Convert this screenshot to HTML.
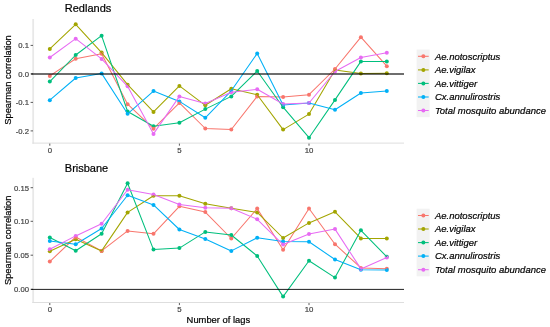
<!DOCTYPE html>
<html><head><meta charset="utf-8"><title>Spearman correlation by number of lags</title>
<style>html,body{margin:0;padding:0;background:#fff}svg{display:block}text{font-family:"Liberation Sans",Arial,sans-serif}</style></head><body>
<svg width="550" height="327" viewBox="0 0 550 327">
<rect width="550" height="327" fill="#fff"/>
<line x1="33.15" y1="19" x2="33.15" y2="143.6" stroke="#e8e8e8" stroke-width="1.8"/>
<line x1="32.3" y1="143.1" x2="404" y2="143.1" stroke="#dedede" stroke-width="1.0"/>
<text x="64.8" y="11.8" font-size="11" fill="#000" stroke="#000" stroke-width="0.2">Redlands</text>
<line x1="30.6" y1="45.4" x2="33.0" y2="45.4" stroke="#333" stroke-width="0.8"/>
<text x="29" y="48.4" font-size="7.7" fill="#444" stroke="#444" stroke-width="0.2" text-anchor="end">0.1</text>
<line x1="30.6" y1="73.9" x2="33.0" y2="73.9" stroke="#333" stroke-width="0.8"/>
<text x="29" y="76.9" font-size="7.7" fill="#444" stroke="#444" stroke-width="0.2" text-anchor="end">0.0</text>
<line x1="30.6" y1="102.4" x2="33.0" y2="102.4" stroke="#333" stroke-width="0.8"/>
<text x="29" y="105.4" font-size="7.7" fill="#444" stroke="#444" stroke-width="0.2" text-anchor="end">-0.1</text>
<line x1="30.6" y1="130.9" x2="33.0" y2="130.9" stroke="#333" stroke-width="0.8"/>
<text x="29" y="133.9" font-size="7.7" fill="#444" stroke="#444" stroke-width="0.2" text-anchor="end">-0.2</text>
<line x1="49.8" y1="143.6" x2="49.8" y2="145.7" stroke="#333" stroke-width="0.8"/>
<text x="49.8" y="152.7" font-size="7.8" fill="#444" stroke="#444" stroke-width="0.2" text-anchor="middle">0</text>
<line x1="179.4" y1="143.6" x2="179.4" y2="145.7" stroke="#333" stroke-width="0.8"/>
<text x="179.4" y="152.7" font-size="7.8" fill="#444" stroke="#444" stroke-width="0.2" text-anchor="middle">5</text>
<line x1="309.0" y1="143.6" x2="309.0" y2="145.7" stroke="#333" stroke-width="0.8"/>
<text x="309.0" y="152.7" font-size="7.8" fill="#444" stroke="#444" stroke-width="0.2" text-anchor="middle">10</text>
<text transform="translate(11.3,80) rotate(-90)" font-size="9.4" fill="#000" stroke="#000" stroke-width="0.2" text-anchor="middle">Spearman correlation</text>
<circle cx="49.8" cy="48.9" r="2.0" fill="#A3A500"/>
<circle cx="75.7" cy="24.3" r="2.0" fill="#A3A500"/>
<circle cx="101.6" cy="52.6" r="2.0" fill="#A3A500"/>
<circle cx="127.6" cy="84.7" r="2.0" fill="#A3A500"/>
<circle cx="153.5" cy="111.9" r="2.0" fill="#A3A500"/>
<circle cx="179.4" cy="85.9" r="2.0" fill="#A3A500"/>
<circle cx="205.3" cy="105.3" r="2.0" fill="#A3A500"/>
<circle cx="231.3" cy="88.7" r="2.0" fill="#A3A500"/>
<circle cx="257.2" cy="94.8" r="2.0" fill="#A3A500"/>
<circle cx="283.1" cy="129.6" r="2.0" fill="#A3A500"/>
<circle cx="309.0" cy="114.1" r="2.0" fill="#A3A500"/>
<circle cx="335.0" cy="70.0" r="2.0" fill="#A3A500"/>
<circle cx="360.9" cy="73.5" r="2.0" fill="#A3A500"/>
<circle cx="386.8" cy="73.3" r="2.0" fill="#A3A500"/>
<circle cx="49.8" cy="81.6" r="2.0" fill="#00BF7D"/>
<circle cx="75.7" cy="55.0" r="2.0" fill="#00BF7D"/>
<circle cx="101.6" cy="35.7" r="2.0" fill="#00BF7D"/>
<circle cx="127.6" cy="111.5" r="2.0" fill="#00BF7D"/>
<circle cx="153.5" cy="126.3" r="2.0" fill="#00BF7D"/>
<circle cx="179.4" cy="122.8" r="2.0" fill="#00BF7D"/>
<circle cx="205.3" cy="109.1" r="2.0" fill="#00BF7D"/>
<circle cx="231.3" cy="96.4" r="2.0" fill="#00BF7D"/>
<circle cx="257.2" cy="71.0" r="2.0" fill="#00BF7D"/>
<circle cx="283.1" cy="107.2" r="2.0" fill="#00BF7D"/>
<circle cx="309.0" cy="137.7" r="2.0" fill="#00BF7D"/>
<circle cx="335.0" cy="99.9" r="2.0" fill="#00BF7D"/>
<circle cx="360.9" cy="61.4" r="2.0" fill="#00BF7D"/>
<circle cx="386.8" cy="61.4" r="2.0" fill="#00BF7D"/>
<circle cx="49.8" cy="100.2" r="2.0" fill="#00B0F6"/>
<circle cx="75.7" cy="78.0" r="2.0" fill="#00B0F6"/>
<circle cx="101.6" cy="73.4" r="2.0" fill="#00B0F6"/>
<circle cx="127.6" cy="113.8" r="2.0" fill="#00B0F6"/>
<circle cx="153.5" cy="91.1" r="2.0" fill="#00B0F6"/>
<circle cx="179.4" cy="101.4" r="2.0" fill="#00B0F6"/>
<circle cx="205.3" cy="117.8" r="2.0" fill="#00B0F6"/>
<circle cx="231.3" cy="90.8" r="2.0" fill="#00B0F6"/>
<circle cx="257.2" cy="53.4" r="2.0" fill="#00B0F6"/>
<circle cx="283.1" cy="105.0" r="2.0" fill="#00B0F6"/>
<circle cx="309.0" cy="103.0" r="2.0" fill="#00B0F6"/>
<circle cx="335.0" cy="109.8" r="2.0" fill="#00B0F6"/>
<circle cx="360.9" cy="93.0" r="2.0" fill="#00B0F6"/>
<circle cx="386.8" cy="91.1" r="2.0" fill="#00B0F6"/>
<circle cx="49.8" cy="57.5" r="2.0" fill="#E76BF3"/>
<circle cx="75.7" cy="38.7" r="2.0" fill="#E76BF3"/>
<circle cx="101.6" cy="58.9" r="2.0" fill="#E76BF3"/>
<circle cx="127.6" cy="86.3" r="2.0" fill="#E76BF3"/>
<circle cx="153.5" cy="133.9" r="2.0" fill="#E76BF3"/>
<circle cx="179.4" cy="96.4" r="2.0" fill="#E76BF3"/>
<circle cx="205.3" cy="103.5" r="2.0" fill="#E76BF3"/>
<circle cx="231.3" cy="92.2" r="2.0" fill="#E76BF3"/>
<circle cx="257.2" cy="89.3" r="2.0" fill="#E76BF3"/>
<circle cx="283.1" cy="104.0" r="2.0" fill="#E76BF3"/>
<circle cx="309.0" cy="103.0" r="2.0" fill="#E76BF3"/>
<circle cx="335.0" cy="71.5" r="2.0" fill="#E76BF3"/>
<circle cx="360.9" cy="57.5" r="2.0" fill="#E76BF3"/>
<circle cx="386.8" cy="52.7" r="2.0" fill="#E76BF3"/>
<circle cx="49.8" cy="75.9" r="2.0" fill="#F8766D"/>
<circle cx="75.7" cy="58.7" r="2.0" fill="#F8766D"/>
<circle cx="101.6" cy="53.8" r="2.0" fill="#F8766D"/>
<circle cx="127.6" cy="104.2" r="2.0" fill="#F8766D"/>
<circle cx="153.5" cy="128.7" r="2.0" fill="#F8766D"/>
<circle cx="179.4" cy="102.9" r="2.0" fill="#F8766D"/>
<circle cx="205.3" cy="128.5" r="2.0" fill="#F8766D"/>
<circle cx="231.3" cy="129.5" r="2.0" fill="#F8766D"/>
<circle cx="257.2" cy="96.4" r="2.0" fill="#F8766D"/>
<circle cx="283.1" cy="96.9" r="2.0" fill="#F8766D"/>
<circle cx="309.0" cy="94.7" r="2.0" fill="#F8766D"/>
<circle cx="335.0" cy="69.0" r="2.0" fill="#F8766D"/>
<circle cx="360.9" cy="37.2" r="2.0" fill="#F8766D"/>
<circle cx="386.8" cy="66.2" r="2.0" fill="#F8766D"/>
<polyline points="49.8,75.9 75.7,58.7 101.6,53.8 127.6,104.2 153.5,128.7 179.4,102.9 205.3,128.5 231.3,129.5 257.2,96.4 283.1,96.9 309.0,94.7 335.0,69.0 360.9,37.2 386.8,66.2" fill="none" stroke="#F8766D" stroke-width="1.05" stroke-linejoin="round"/>
<polyline points="49.8,48.9 75.7,24.3 101.6,52.6 127.6,84.7 153.5,111.9 179.4,85.9 205.3,105.3 231.3,88.7 257.2,94.8 283.1,129.6 309.0,114.1 335.0,70.0 360.9,73.5 386.8,73.3" fill="none" stroke="#A3A500" stroke-width="1.05" stroke-linejoin="round"/>
<polyline points="49.8,81.6 75.7,55.0 101.6,35.7 127.6,111.5 153.5,126.3 179.4,122.8 205.3,109.1 231.3,96.4 257.2,71.0 283.1,107.2 309.0,137.7 335.0,99.9 360.9,61.4 386.8,61.4" fill="none" stroke="#00BF7D" stroke-width="1.05" stroke-linejoin="round"/>
<polyline points="49.8,100.2 75.7,78.0 101.6,73.4 127.6,113.8 153.5,91.1 179.4,101.4 205.3,117.8 231.3,90.8 257.2,53.4 283.1,105.0 309.0,103.0 335.0,109.8 360.9,93.0 386.8,91.1" fill="none" stroke="#00B0F6" stroke-width="1.05" stroke-linejoin="round"/>
<polyline points="49.8,57.5 75.7,38.7 101.6,58.9 127.6,86.3 153.5,133.9 179.4,96.4 205.3,103.5 231.3,92.2 257.2,89.3 283.1,104.0 309.0,103.0 335.0,71.5 360.9,57.5 386.8,52.7" fill="none" stroke="#E76BF3" stroke-width="1.05" stroke-linejoin="round"/>
<line x1="31.2" y1="74.0" x2="404" y2="74.0" stroke="#000" stroke-opacity="0.57" stroke-width="2.0"/>
<rect x="416.6" y="49.55" width="13.1" height="67.6" fill="#f2f2f2"/>
<line x1="418" y1="56.3" x2="428.7" y2="56.3" stroke="#F8766D" stroke-width="1.05"/>
<circle cx="423.35" cy="56.3" r="2.0" fill="#F8766D"/>
<text x="434.9" y="59.6" font-size="9.5" font-style="italic" fill="#000" stroke="#000" stroke-width="0.2">Ae.notoscriptus</text>
<line x1="418" y1="69.9" x2="428.7" y2="69.9" stroke="#A3A500" stroke-width="1.05"/>
<circle cx="423.35" cy="69.9" r="2.0" fill="#A3A500"/>
<text x="434.9" y="73.2" font-size="9.5" font-style="italic" fill="#000" stroke="#000" stroke-width="0.2">Ae.vigilax</text>
<line x1="418" y1="83.4" x2="428.7" y2="83.4" stroke="#00BF7D" stroke-width="1.05"/>
<circle cx="423.35" cy="83.4" r="2.0" fill="#00BF7D"/>
<text x="434.9" y="86.7" font-size="9.5" font-style="italic" fill="#000" stroke="#000" stroke-width="0.2">Ae.vittiger</text>
<line x1="418" y1="97.0" x2="428.7" y2="97.0" stroke="#00B0F6" stroke-width="1.05"/>
<circle cx="423.35" cy="97.0" r="2.0" fill="#00B0F6"/>
<text x="434.9" y="100.3" font-size="9.5" font-style="italic" fill="#000" stroke="#000" stroke-width="0.2">Cx.annulirostris</text>
<line x1="418" y1="110.5" x2="428.7" y2="110.5" stroke="#E76BF3" stroke-width="1.05"/>
<circle cx="423.35" cy="110.5" r="2.0" fill="#E76BF3"/>
<text x="434.9" y="113.8" font-size="9.5" font-style="italic" fill="#000" stroke="#000" stroke-width="0.2">Total mosquito abundance</text>
<line x1="33.15" y1="177.8" x2="33.15" y2="303.0" stroke="#e8e8e8" stroke-width="1.8"/>
<line x1="32.3" y1="302.5" x2="404" y2="302.5" stroke="#dedede" stroke-width="1.0"/>
<text x="64.8" y="171.5" font-size="11" fill="#000" stroke="#000" stroke-width="0.2">Brisbane</text>
<line x1="30.6" y1="187.7" x2="33.0" y2="187.7" stroke="#333" stroke-width="0.8"/>
<text x="29" y="190.7" font-size="7.7" fill="#444" stroke="#444" stroke-width="0.2" text-anchor="end">0.15</text>
<line x1="30.6" y1="221.3" x2="33.0" y2="221.3" stroke="#333" stroke-width="0.8"/>
<text x="29" y="224.3" font-size="7.7" fill="#444" stroke="#444" stroke-width="0.2" text-anchor="end">0.10</text>
<line x1="30.6" y1="255.2" x2="33.0" y2="255.2" stroke="#333" stroke-width="0.8"/>
<text x="29" y="258.2" font-size="7.7" fill="#444" stroke="#444" stroke-width="0.2" text-anchor="end">0.05</text>
<line x1="30.6" y1="289.3" x2="33.0" y2="289.3" stroke="#333" stroke-width="0.8"/>
<text x="29" y="292.3" font-size="7.7" fill="#444" stroke="#444" stroke-width="0.2" text-anchor="end">0.00</text>
<line x1="49.8" y1="303.0" x2="49.8" y2="305.1" stroke="#333" stroke-width="0.8"/>
<text x="49.8" y="312.1" font-size="7.8" fill="#444" stroke="#444" stroke-width="0.2" text-anchor="middle">0</text>
<line x1="179.4" y1="303.0" x2="179.4" y2="305.1" stroke="#333" stroke-width="0.8"/>
<text x="179.4" y="312.1" font-size="7.8" fill="#444" stroke="#444" stroke-width="0.2" text-anchor="middle">5</text>
<line x1="309.0" y1="303.0" x2="309.0" y2="305.1" stroke="#333" stroke-width="0.8"/>
<text x="309.0" y="312.1" font-size="7.8" fill="#444" stroke="#444" stroke-width="0.2" text-anchor="middle">10</text>
<text transform="translate(11.3,240.3) rotate(-90)" font-size="9.4" fill="#000" stroke="#000" stroke-width="0.2" text-anchor="middle">Spearman correlation</text>
<circle cx="49.8" cy="251.3" r="2.0" fill="#A3A500"/>
<circle cx="75.7" cy="239.2" r="2.0" fill="#A3A500"/>
<circle cx="101.6" cy="250.9" r="2.0" fill="#A3A500"/>
<circle cx="127.6" cy="212.4" r="2.0" fill="#A3A500"/>
<circle cx="153.5" cy="195.8" r="2.0" fill="#A3A500"/>
<circle cx="179.4" cy="195.8" r="2.0" fill="#A3A500"/>
<circle cx="205.3" cy="203.8" r="2.0" fill="#A3A500"/>
<circle cx="231.3" cy="208.2" r="2.0" fill="#A3A500"/>
<circle cx="257.2" cy="212.4" r="2.0" fill="#A3A500"/>
<circle cx="283.1" cy="238.0" r="2.0" fill="#A3A500"/>
<circle cx="309.0" cy="222.9" r="2.0" fill="#A3A500"/>
<circle cx="335.0" cy="211.8" r="2.0" fill="#A3A500"/>
<circle cx="360.9" cy="238.4" r="2.0" fill="#A3A500"/>
<circle cx="386.8" cy="238.6" r="2.0" fill="#A3A500"/>
<circle cx="49.8" cy="261.6" r="2.0" fill="#F8766D"/>
<circle cx="75.7" cy="237.0" r="2.0" fill="#F8766D"/>
<circle cx="101.6" cy="250.9" r="2.0" fill="#F8766D"/>
<circle cx="127.6" cy="230.9" r="2.0" fill="#F8766D"/>
<circle cx="153.5" cy="233.8" r="2.0" fill="#F8766D"/>
<circle cx="179.4" cy="206.3" r="2.0" fill="#F8766D"/>
<circle cx="205.3" cy="212.1" r="2.0" fill="#F8766D"/>
<circle cx="231.3" cy="238.5" r="2.0" fill="#F8766D"/>
<circle cx="257.2" cy="208.6" r="2.0" fill="#F8766D"/>
<circle cx="283.1" cy="249.7" r="2.0" fill="#F8766D"/>
<circle cx="309.0" cy="208.5" r="2.0" fill="#F8766D"/>
<circle cx="335.0" cy="244.2" r="2.0" fill="#F8766D"/>
<circle cx="360.9" cy="267.9" r="2.0" fill="#F8766D"/>
<circle cx="386.8" cy="268.7" r="2.0" fill="#F8766D"/>
<circle cx="49.8" cy="237.5" r="2.0" fill="#00BF7D"/>
<circle cx="75.7" cy="250.8" r="2.0" fill="#00BF7D"/>
<circle cx="101.6" cy="233.7" r="2.0" fill="#00BF7D"/>
<circle cx="127.6" cy="183.3" r="2.0" fill="#00BF7D"/>
<circle cx="153.5" cy="249.6" r="2.0" fill="#00BF7D"/>
<circle cx="179.4" cy="248.1" r="2.0" fill="#00BF7D"/>
<circle cx="205.3" cy="231.9" r="2.0" fill="#00BF7D"/>
<circle cx="231.3" cy="235.0" r="2.0" fill="#00BF7D"/>
<circle cx="257.2" cy="256.0" r="2.0" fill="#00BF7D"/>
<circle cx="283.1" cy="296.6" r="2.0" fill="#00BF7D"/>
<circle cx="309.0" cy="260.7" r="2.0" fill="#00BF7D"/>
<circle cx="335.0" cy="277.6" r="2.0" fill="#00BF7D"/>
<circle cx="360.9" cy="230.3" r="2.0" fill="#00BF7D"/>
<circle cx="386.8" cy="256.8" r="2.0" fill="#00BF7D"/>
<circle cx="49.8" cy="241.0" r="2.0" fill="#00B0F6"/>
<circle cx="75.7" cy="244.2" r="2.0" fill="#00B0F6"/>
<circle cx="101.6" cy="228.5" r="2.0" fill="#00B0F6"/>
<circle cx="127.6" cy="195.2" r="2.0" fill="#00B0F6"/>
<circle cx="153.5" cy="204.9" r="2.0" fill="#00B0F6"/>
<circle cx="179.4" cy="229.5" r="2.0" fill="#00B0F6"/>
<circle cx="205.3" cy="239.0" r="2.0" fill="#00B0F6"/>
<circle cx="231.3" cy="250.9" r="2.0" fill="#00B0F6"/>
<circle cx="257.2" cy="237.8" r="2.0" fill="#00B0F6"/>
<circle cx="283.1" cy="241.6" r="2.0" fill="#00B0F6"/>
<circle cx="309.0" cy="241.8" r="2.0" fill="#00B0F6"/>
<circle cx="335.0" cy="259.5" r="2.0" fill="#00B0F6"/>
<circle cx="360.9" cy="269.7" r="2.0" fill="#00B0F6"/>
<circle cx="386.8" cy="270.1" r="2.0" fill="#00B0F6"/>
<circle cx="49.8" cy="249.3" r="2.0" fill="#E76BF3"/>
<circle cx="75.7" cy="235.9" r="2.0" fill="#E76BF3"/>
<circle cx="101.6" cy="223.8" r="2.0" fill="#E76BF3"/>
<circle cx="127.6" cy="189.7" r="2.0" fill="#E76BF3"/>
<circle cx="153.5" cy="194.4" r="2.0" fill="#E76BF3"/>
<circle cx="179.4" cy="204.5" r="2.0" fill="#E76BF3"/>
<circle cx="205.3" cy="207.7" r="2.0" fill="#E76BF3"/>
<circle cx="231.3" cy="208.2" r="2.0" fill="#E76BF3"/>
<circle cx="257.2" cy="219.3" r="2.0" fill="#E76BF3"/>
<circle cx="283.1" cy="244.6" r="2.0" fill="#E76BF3"/>
<circle cx="309.0" cy="234.0" r="2.0" fill="#E76BF3"/>
<circle cx="335.0" cy="229.1" r="2.0" fill="#E76BF3"/>
<circle cx="360.9" cy="268.9" r="2.0" fill="#E76BF3"/>
<circle cx="386.8" cy="257.6" r="2.0" fill="#E76BF3"/>
<polyline points="49.8,261.6 75.7,237.0 101.6,250.9 127.6,230.9 153.5,233.8 179.4,206.3 205.3,212.1 231.3,238.5 257.2,208.6 283.1,249.7 309.0,208.5 335.0,244.2 360.9,267.9 386.8,268.7" fill="none" stroke="#F8766D" stroke-width="1.05" stroke-linejoin="round"/>
<polyline points="49.8,251.3 75.7,239.2 101.6,250.9 127.6,212.4 153.5,195.8 179.4,195.8 205.3,203.8 231.3,208.2 257.2,212.4 283.1,238.0 309.0,222.9 335.0,211.8 360.9,238.4 386.8,238.6" fill="none" stroke="#A3A500" stroke-width="1.05" stroke-linejoin="round"/>
<polyline points="49.8,237.5 75.7,250.8 101.6,233.7 127.6,183.3 153.5,249.6 179.4,248.1 205.3,231.9 231.3,235.0 257.2,256.0 283.1,296.6 309.0,260.7 335.0,277.6 360.9,230.3 386.8,256.8" fill="none" stroke="#00BF7D" stroke-width="1.05" stroke-linejoin="round"/>
<polyline points="49.8,241.0 75.7,244.2 101.6,228.5 127.6,195.2 153.5,204.9 179.4,229.5 205.3,239.0 231.3,250.9 257.2,237.8 283.1,241.6 309.0,241.8 335.0,259.5 360.9,269.7 386.8,270.1" fill="none" stroke="#00B0F6" stroke-width="1.05" stroke-linejoin="round"/>
<polyline points="49.8,249.3 75.7,235.9 101.6,223.8 127.6,189.7 153.5,194.4 179.4,204.5 205.3,207.7 231.3,208.2 257.2,219.3 283.1,244.6 309.0,234.0 335.0,229.1 360.9,268.9 386.8,257.6" fill="none" stroke="#E76BF3" stroke-width="1.05" stroke-linejoin="round"/>
<line x1="31.2" y1="289.4" x2="404" y2="289.4" stroke="#000" stroke-opacity="0.88" stroke-width="1.0"/>
<rect x="416.6" y="208.7" width="13.1" height="67.6" fill="#f2f2f2"/>
<line x1="418" y1="215.5" x2="428.7" y2="215.5" stroke="#F8766D" stroke-width="1.05"/>
<circle cx="423.35" cy="215.5" r="2.0" fill="#F8766D"/>
<text x="434.9" y="218.8" font-size="9.5" font-style="italic" fill="#000" stroke="#000" stroke-width="0.2">Ae.notoscriptus</text>
<line x1="418" y1="229.0" x2="428.7" y2="229.0" stroke="#A3A500" stroke-width="1.05"/>
<circle cx="423.35" cy="229.0" r="2.0" fill="#A3A500"/>
<text x="434.9" y="232.3" font-size="9.5" font-style="italic" fill="#000" stroke="#000" stroke-width="0.2">Ae.vigilax</text>
<line x1="418" y1="242.6" x2="428.7" y2="242.6" stroke="#00BF7D" stroke-width="1.05"/>
<circle cx="423.35" cy="242.6" r="2.0" fill="#00BF7D"/>
<text x="434.9" y="245.9" font-size="9.5" font-style="italic" fill="#000" stroke="#000" stroke-width="0.2">Ae.vittiger</text>
<line x1="418" y1="256.1" x2="428.7" y2="256.1" stroke="#00B0F6" stroke-width="1.05"/>
<circle cx="423.35" cy="256.1" r="2.0" fill="#00B0F6"/>
<text x="434.9" y="259.4" font-size="9.5" font-style="italic" fill="#000" stroke="#000" stroke-width="0.2">Cx.annulirostris</text>
<line x1="418" y1="269.7" x2="428.7" y2="269.7" stroke="#E76BF3" stroke-width="1.05"/>
<circle cx="423.35" cy="269.7" r="2.0" fill="#E76BF3"/>
<text x="434.9" y="273.0" font-size="9.5" font-style="italic" fill="#000" stroke="#000" stroke-width="0.2">Total mosquito abundance</text>
<text x="218.4" y="322.7" font-size="9.4" fill="#000" stroke="#000" stroke-width="0.2" text-anchor="middle">Number of lags</text>
</svg></body></html>
